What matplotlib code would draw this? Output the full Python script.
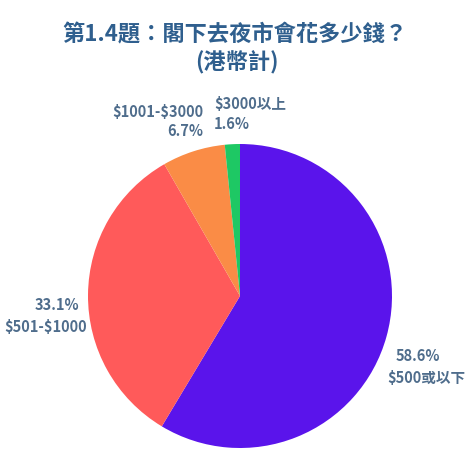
import matplotlib
matplotlib.use("Agg")
import matplotlib.pyplot as plt

plt.rcParams['font.family'] = ['Noto Sans CJK TC', 'DejaVu Sans']
plt.rcParams['text.parse_math'] = False

categories = ["$500或以下", "$501-$1000", "$1001-$3000", "$3000以上"]
values = [58.6, 33.1, 6.7, 1.6]
colors = ["#5a14eb", "#ff5a5a", "#fa8c46", "#1ec864"]
title_lines = ["第1.4題：閣下去夜市會花多少錢？", "(港幣計)"]

W = H = 474
fig = plt.figure(figsize=(4.74, 4.74), dpi=100)
ax = fig.add_axes([88 / W, (474 - 448) / H, 304 / W, 304 / H])
ax.pie(values, colors=colors, startangle=90, counterclock=False,
       wedgeprops=dict(linewidth=0))
ax.set_xlim(-1, 1)
ax.set_ylim(-1, 1)
ax.set_aspect('equal')

title_color = "#2f5f8e"
label_color = "#4f6d8c"

def ftext(x, y, s, ha='center', size=10.5, color=label_color):
    fig.text(x / W, 1 - y / H, s, ha=ha, va='center', fontsize=size,
             fontweight='bold', color=color)

ftext(235, 35, title_lines[0], size=16, color=title_color)
ftext(237, 63, title_lines[1], size=16, color=title_color)

ftext(203, 112, categories[2], ha='right')
ftext(203, 131, f"{values[2]}%", ha='right')
ftext(214, 104, categories[3], ha='left')
ftext(214, 124, f"{values[3]}%", ha='left')
ftext(57, 305, f"{values[1]}%")
ftext(46, 327, categories[1])
ftext(418, 356, f"{values[0]}%")
ftext(426, 378, categories[0])

fig.savefig("out.png", dpi=100, facecolor="white")
